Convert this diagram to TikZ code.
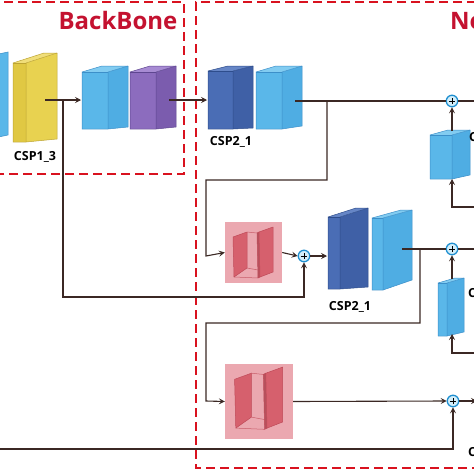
\documentclass[tikz,border=0pt]{standalone}
\usepackage{fontspec}
\setmainfont{Open Sans}
\usetikzlibrary{arrows.meta}
\definecolor{lbF}{HTML}{5AB7E9}\definecolor{lbS}{HTML}{4FADE3}\definecolor{lbT}{HTML}{82CCF1}\definecolor{lbD}{HTML}{3C8FC9}
\definecolor{dbF}{HTML}{4A6DB5}\definecolor{dbS}{HTML}{3F60A6}\definecolor{dbT}{HTML}{6686C6}\definecolor{dbD}{HTML}{2E4D8C}
\definecolor{puF}{HTML}{8C6CBE}\definecolor{puS}{HTML}{7B5CAE}\definecolor{puT}{HTML}{A78BD3}\definecolor{puD}{HTML}{5E4690}
\definecolor{yeF}{HTML}{E0C843}\definecolor{yeS}{HTML}{E8D250}\definecolor{yeT}{HTML}{F0DE7A}\definecolor{yeD}{HTML}{BDA433}
\definecolor{redT}{HTML}{C41230}
\definecolor{dash}{HTML}{D9121F}
\definecolor{wire}{HTML}{3B2824}
\definecolor{pinkbg}{HTML}{EBA8B0}
\definecolor{panel}{HTML}{D6606D}
\definecolor{paneld}{HTML}{BF4A58}
\definecolor{plusD}{HTML}{1E8FD0}
\definecolor{plusF}{HTML}{D3EEFA}
\newcommand{\blk}[9]{%
 \fill[#9S] ({#2+#3},#4) -- ++(#6,-#7) -- ({#2+#3+#6},{#5-#8}) -- ({#2+#3},#5) -- cycle;
 \fill[#9T] (#2,#4) -- ({#2+#3},#4) -- ({#2+#3+#6},{#4-#7}) -- ({#2+#6},{#4-#7}) -- cycle;
 \fill[#9F] (#2,#4) rectangle ({#2+#3},#5);
 \draw[#9D, line width=0.5pt, line join=round] (#2,#4) -- ({#2+#6},{#4-#7}) -- ({#2+#3+#6},{#4-#7}) -- ({#2+#3+#6},{#5-#8}) -- ({#2+#3},#5) -- (#2,#5) -- cycle;
 \draw[#9D, line width=0.5pt] ({#2+#3},#5) -- ({#2+#3},#4) -- ({#2+#3+#6},{#4-#7});
 \draw[#9D, line width=0.5pt] (#2,#4) -- ({#2+#3},#4);
 \coordinate (#1) at ({#2+(#3+#6)/2},{(#4+#5)/2});
}
\newcommand{\redin}{%
 \draw[paneld!80!pinkbg, line width=0.5pt] (9,55) -- (33,56) (22,46) -- (33,48) (22,10) -- (32,11);
 \filldraw[fill=panel, draw=paneld, line width=0.5pt, line join=round] (8,15) -- (22,10) -- (22,46) -- (9,55) -- cycle;
 \filldraw[fill=panel!85!black, draw=paneld, line width=0.5pt, line join=round] (32,11) -- (34,10) -- (35,55) -- (33,56) -- cycle;
 \filldraw[fill=panel, draw=paneld, line width=0.5pt, line join=round] (34,10) -- (48,5) -- (48,50) -- (35,55) -- cycle;
}
\tikzset{
 x=1pt, y=-1pt,
 wire/.style={draw=wire, line width=1.1pt},
 arr/.style={wire, -{Stealth[length=6pt,width=6pt,inset=2.5pt]}},
 dbox/.style={draw=dash, line width=2.4pt, dash pattern=on 9pt off 5pt},
 lbl/.style={font=\bfseries\fontsize{12.5}{13}\selectfont, text=black, inner sep=0pt},
 ttl/.style={font=\bfseries\fontsize{24}{26}\selectfont, text=redT, inner sep=0pt},
 plus/.style={circle, draw=plusD, fill=plusF, line width=1.3pt, minimum size=11.5pt, inner sep=0pt,
   path picture={\draw[black, line width=1pt]
     ([xshift=-3.2pt]path picture bounding box.center) -- ([xshift=3.2pt]path picture bounding box.center)
     ([yshift=-3.2pt]path picture bounding box.center) -- ([yshift=3.2pt]path picture bounding box.center);}},
 redbg/.style={fill=pinkbg, inner sep=0pt, draw=none},
}
\begin{document}
\begin{tikzpicture}
\useasboundingbox (0,0) rectangle (474,474);
\clip (0,0) rectangle (474,474);
\fill[white] (0,0) rectangle (474,474);

% dashed boxes
\draw[dbox] (-10,2) -- (184,2) -- (184,174) -- (-10,174);
\draw[dbox] (490,2) -- (196,2) -- (196,468) -- (490,468);

% titles
\node[ttl] (bb) at (118,20) {BackBone};
\node[ttl, anchor=west] (nk) at (450,20) {Neck};

% blocks
\fill[lbF] (-20,58) -- (8,52) -- (8,135) -- (-20,141) -- cycle;
\draw[lbD, line width=0.5pt] (-20,58) -- (8,52) -- (8,135) -- (-20,141);
\blk{ye}{13}{13}{63}{142}{31}{10}{3}{ye}
\blk{lb0}{82}{26}{72}{129}{20}{6}{2}{lb}
\blk{pu}{130}{26}{72}{129}{20}{6}{2}{pu}
\blk{db1}{208}{25}{71}{129}{20}{5}{1}{db}
\blk{lb1}{256}{26}{72}{129}{20}{6}{3}{lb}
\blk{db2}{328}{12}{217}{289}{28}{9}{2}{db}
\blk{lb2}{372}{11}{218}{290}{29}{8}{10}{lb}
\blk{rb1}{430}{22}{135}{179}{18}{5}{4}{lb}
\blk{rb3}{438}{9}{283}{336}{17}{5}{4}{lb}

% red boxes
\node[redbg, minimum width=57pt, minimum height=61pt] (r1) at (253.5,252.5) {};
\begin{scope}[shift={(225,222)}]\redin\end{scope}
\node[redbg, minimum width=68pt, minimum height=75pt] (r2) at (259,401.5) {};
\begin{scope}[shift={(225,361)}, xscale=1.2, yscale=1.22]\redin\end{scope}

% labels
\node[lbl] (l1) at (35,157) {CSP1\_3};
\node[lbl] (l2) at (231,142) {CSP2\_1};
\node[lbl] (l3) at (350,307) {CSP2\_1};
\node[lbl, anchor=west] (c1) at (469,137) {CBL};
\node[lbl, anchor=west] (c2) at (468,293) {CBL};
\node[lbl, anchor=west] (c3) at (468,452) {CBL};

% plus nodes
\node[plus] (p1) at (452,101) {};
\node[plus] (p2) at (304,256) {};
\node[plus] (p3) at (452,249) {};
\node[plus] (p4) at (453,401) {};

% coordinates
\coordinate (yeo) at (45,100);
\coordinate (lb0i) at (81,100);
\coordinate (j1) at (63,100);
\coordinate (puo) at (169,100);
\coordinate (db1i) at (207,100);
\coordinate (lb1o) at (295,101);
\coordinate (j2) at (327,101);
\coordinate (e1) at (480,101);
\coordinate (db2i) at (327,256);
\coordinate (lb2o) at (402,249);
\coordinate (j3) at (420,249);
\coordinate (e3) at (480,249);
\coordinate (e4) at (477,401);
\coordinate (rb1t) at (452,131);
\coordinate (rb1b) at (452,179);
\coordinate (s1) at (480,207);
\coordinate (rb3t) at (452,279);
\coordinate (rb3b) at (452,334);
\coordinate (s3) at (480,353);
\coordinate (bl) at (-5,449);

% connectors
\draw[arr] (yeo) -- (lb0i);
\draw[arr] (j1) -- (63,297) -| (p2.south);
\draw[arr] (puo) -- (db1i);
\draw[wire] (lb1o) -- (p1.west);
\draw[wire] (p1.east) -- (e1);
\draw[arr] (j2) -- (327,180) -- (206,180) -- (206,256) -- (r1.west);
\draw[arr] (r1.east) -- (p2.west);
\draw[arr] (p2.east) -- (db2i);
\draw[wire] (lb2o) -- (p3.west);
\draw[wire] (p3.east) -- (e3);
\draw[arr] (j3) -- (420,323) -- (206,323) -- (206,401) -- (r2.west);
\draw[arr] (r2.east) -- (p4.west);
\draw[arr] (bl) -| (p4.south);
\draw[arr] (p4.east) -- (e4);
\draw[arr] (rb1t) -- (p1.south);
\draw[arr] (s1) -| (rb1b);
\draw[arr] (rb3t) -- (p3.south);
\draw[arr] (s3) -| (rb3b);
\end{tikzpicture}
\end{document}
